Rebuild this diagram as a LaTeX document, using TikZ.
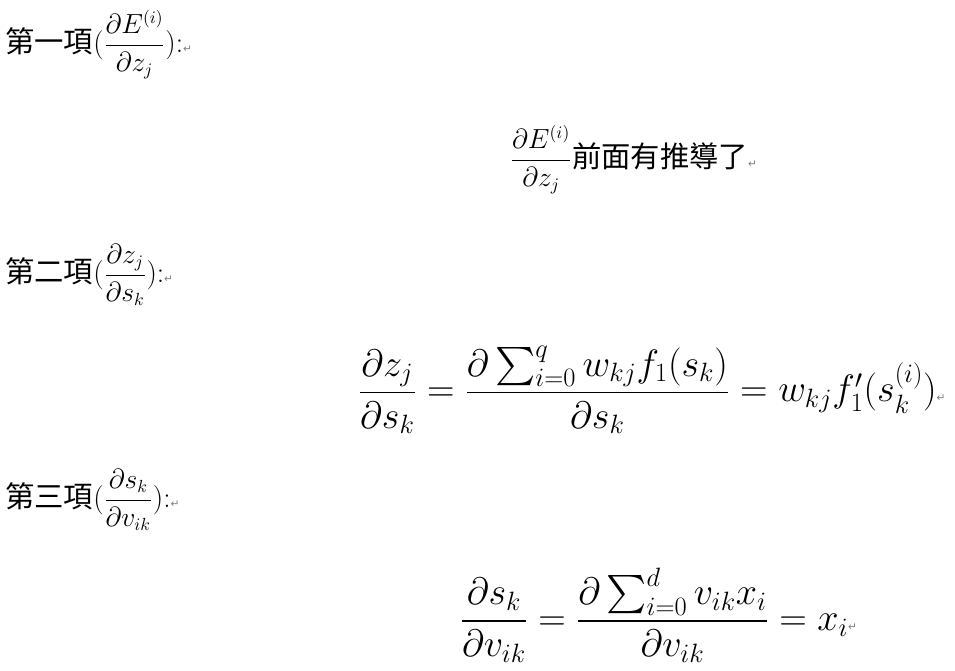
\documentclass[tikz,border=0pt]{standalone}
\usepackage{amsmath}
\usepackage{graphicx}
\usepackage{fontspec}
\newfontfamily\cjk{Noto Sans CJK TC}
\newfontfamily\dejavu{DejaVu Sans}
\newcommand{\pmark}{{\dejavu\fontsize{8}{10}\selectfont\textcolor{gray}{↵}}}
\newcommand{\sfr}[2]{\scalebox{1.2}{\fontsize{16}{18}\selectfont$\dfrac{#1}{#2}$}}
\begin{document}
\begin{tikzpicture}[x=0.75pt,y=-0.75pt,
  txt/.style={anchor=west,inner sep=0pt,font=\fontsize{22}{26}\selectfont},
  eq/.style={anchor=west,inner sep=0pt,font=\fontsize{24}{30}\selectfont}]
\useasboundingbox (0,0) rectangle (955,670);
\node[txt] (t1) at (5,45) {{\cjk 第一項}(\sfr{\partial E^{(i)}}{\partial z_j}):\pmark};
\node[txt] (e1) at (510,160) {\sfr{\partial E^{(i)}}{\partial z_j}{\cjk 前面有推導了}\pmark};
\node[txt] (t2) at (5,275) {{\cjk 第二項}(\sfr{\partial z_j}{\partial s_k}):\pmark};
\node[eq] (e2) at (358,390) {\scalebox{1.15}{$\dfrac{\partial z_j}{\partial s_k}=\dfrac{\partial\sum_{i=0}^{q} w_{kj}f_1(s_k)}{\partial s_k}=w_{kj}f_1'(s_k^{(i)})$}\pmark};
\node[txt] (t3) at (5,500) {{\cjk 第三項}(\sfr{\partial s_k}{\partial v_{ik}}):\pmark};
\node[eq] (e3) at (460,615) {\scalebox{1.15}{$\dfrac{\partial s_k}{\partial v_{ik}}=\dfrac{\partial\sum_{i=0}^{d} v_{ik}x_i}{\partial v_{ik}}=x_i$}\pmark};
\end{tikzpicture}
\end{document}
